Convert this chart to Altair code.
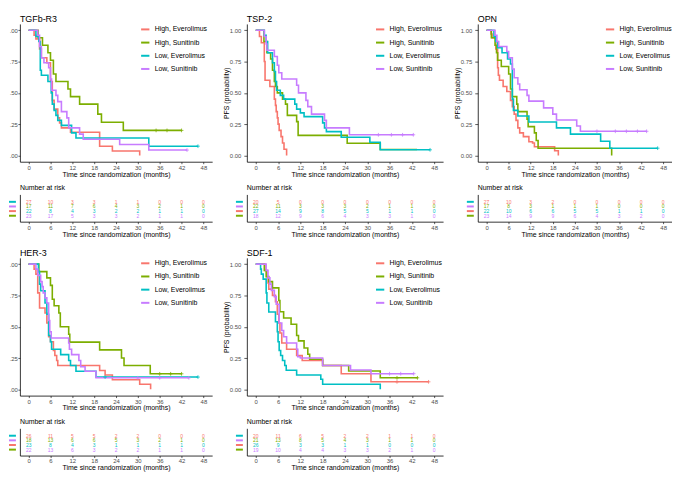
import altair as alt
import pandas as pd

FONT = "Liberation Sans"
GROUPS = ["High, Everolimus", "High, Sunitinib", "Low, Everolimus", "Low, Sunitinib"]
COLORS = ["#F8766D", "#7CAE00", "#00BFC4", "#C77CFF"]
DASH_ORDER = ["Low, Everolimus", "Low, Sunitinib", "High, Everolimus", "High, Sunitinib"]
RISK_TIMES = [0, 6, 12, 18, 24, 30, 36, 42, 48]
Y_TICKS = [0, 0.25, 0.5, 0.75, 1.0]

# ---------------- Kaplan-Meier step points (time, PFS) ----------------
TGFB_HE = [(0, 1), (1.5, 0.96), (2, 0.93), (3, 0.85), (3.5, 0.78), (5, 0.74), (6, 0.59), (6.5, 0.44),
           (7, 0.37), (8, 0.30), (8.5, 0.26), (9, 0.22), (11.5, 0.185), (19.5, 0.074), (23, 0.035), (30.5, 0.0)]
TGFB_HS = [(0, 1), (2.6, 0.94), (3.8, 0.88), (5.3, 0.82), (6, 0.76), (6.8, 0.65), (7.5, 0.59), (10.8, 0.53),
           (11.5, 0.47), (14, 0.41), (19, 0.33), (20, 0.265), (26, 0.20), (42, 0.20)]
TGFB_LE = [(0, 1), (2, 0.95), (2.8, 0.91), (3.2, 0.68), (3.5, 0.64), (5.3, 0.59), (6.2, 0.50), (6.5, 0.41),
           (7, 0.36), (7.5, 0.32), (8, 0.28), (9, 0.24), (11.8, 0.18), (13, 0.14), (33, 0.074), (46.5, 0.074)]
TGFB_LS = [(0, 1), (2.5, 0.96), (3, 0.87), (3.5, 0.78), (4.2, 0.74), (5.5, 0.70), (6, 0.61), (6.3, 0.52),
           (7.5, 0.48), (8, 0.43), (9, 0.35), (10.5, 0.30), (11, 0.22), (14, 0.17), (15, 0.13), (25, 0.087),
           (33, 0.043), (43.5, 0.043)]
TGFB_CENS = {"High, Sunitinib": [35, 38, 42], "Low, Everolimus": [46.5], "Low, Sunitinib": [43.5]}

TSP_HE = [(0, 1), (1, 0.95), (1.5, 0.90), (2.3, 0.75), (2.5, 0.60), (3.8, 0.55), (5, 0.45), (5.3, 0.40),
          (5.5, 0.35), (5.8, 0.30), (6, 0.25), (6.3, 0.20), (6.8, 0.15), (7.2, 0.10), (7.6, 0.05), (8.3, 0.0)]
TSP_HS = [(0, 1), (2.2, 0.91), (3, 0.82), (4, 0.77), (4.5, 0.68), (5, 0.59), (5.3, 0.55), (5.8, 0.50),
          (7.2, 0.45), (8, 0.41), (8.5, 0.32), (11, 0.27), (11.4, 0.16), (24.6, 0.097), (33.5, 0.048), (43.4, 0.048)]
TSP_LE = [(0, 1), (2.3, 0.96), (2.8, 0.91), (3.2, 0.82), (4.5, 0.74), (5, 0.67), (5.3, 0.59), (5.6, 0.52),
          (6.6, 0.48), (7.5, 0.45), (10.5, 0.41), (11, 0.37), (12, 0.34), (13, 0.31), (18, 0.26), (18.5, 0.22),
          (19, 0.19), (23, 0.145), (30.7, 0.105), (33.5, 0.045), (46.9, 0.045)]
TSP_LS = [(0, 1), (2.3, 0.95), (2.8, 0.89), (3, 0.84), (5, 0.79), (5.8, 0.72), (6.2, 0.66), (7, 0.61),
          (11, 0.56), (11.5, 0.50), (13.5, 0.44), (14, 0.39), (15, 0.33), (18.5, 0.28), (19, 0.22),
          (25.2, 0.165), (42.4, 0.165)]
TSP_CENS = {"Low, Everolimus": [46.9], "Low, Sunitinib": [33, 36.5, 39.5, 42.4]}

OPN_HE = [(0, 1), (1.2, 0.97), (1.5, 0.94), (2.5, 0.85), (3, 0.70), (3.2, 0.64), (3.5, 0.60), (4.5, 0.55),
          (5.5, 0.51), (6.5, 0.44), (7, 0.39), (7.5, 0.33), (8, 0.28), (8.5, 0.22), (9, 0.18), (10, 0.15),
          (11.5, 0.11), (12.5, 0.10), (13, 0.07), (18.5, 0.037), (19.5, 0.0)]
OPN_HS = [(0, 1), (1.3, 0.94), (2.3, 0.88), (2.7, 0.82), (3, 0.76), (4, 0.71), (6, 0.65), (6.5, 0.53),
          (7, 0.47), (8.2, 0.41), (8.5, 0.35), (11, 0.29), (11.3, 0.23), (13, 0.18), (13.5, 0.12),
          (14, 0.058), (34, 0.0)]
OPN_LE = [(0, 1), (2, 0.95), (2.5, 0.91), (3, 0.86), (4.2, 0.82), (5.7, 0.77), (6.5, 0.73), (7, 0.45),
          (7.3, 0.36), (8.5, 0.315), (11.5, 0.267), (19, 0.22), (22.8, 0.17), (31, 0.114), (33.5, 0.058),
          (46.5, 0.058)]
OPN_LS = [(0, 1), (2.3, 0.96), (2.8, 0.91), (3.3, 0.87), (5.5, 0.83), (6, 0.78), (7, 0.69), (7.5, 0.62),
          (8.5, 0.57), (9, 0.524), (11, 0.48), (11.5, 0.434), (15.5, 0.38), (18, 0.33), (19, 0.283),
          (24.5, 0.235), (25.5, 0.193), (43.5, 0.193)]
OPN_CENS = {"Low, Everolimus": [46.5], "Low, Sunitinib": [30, 35, 38, 41, 43.5]}

HER_HE = [(0, 1), (1.5, 0.96), (2, 0.92), (2.5, 0.77), (3, 0.65), (4.5, 0.61), (5, 0.53), (5.5, 0.42),
          (6, 0.38), (6.8, 0.31), (7.2, 0.27), (7.7, 0.23), (8, 0.19), (19.5, 0.15), (21, 0.115),
          (23, 0.077), (30.5, 0.04), (33.5, 0.0)]
HER_HS = [(0, 1), (2.8, 0.94), (5, 0.89), (6, 0.83), (6.5, 0.72), (7, 0.667), (8.3, 0.61), (8.7, 0.50),
          (11, 0.44), (11.3, 0.377), (19.5, 0.315), (25.5, 0.25), (26.2, 0.19), (33.4, 0.124), (42, 0.124)]
HER_LE = [(0, 1), (2.7, 0.94), (3, 0.84), (3.3, 0.787), (4.5, 0.69), (5, 0.60), (5.5, 0.43), (6, 0.38),
          (6.3, 0.32), (8.8, 0.277), (11, 0.23), (11.5, 0.19), (13, 0.145), (18.5, 0.098), (46.5, 0.098)]
HER_LS = [(0, 1), (2, 0.96), (2.5, 0.91), (3.3, 0.86), (3.7, 0.82), (4, 0.77), (4.5, 0.73), (5, 0.69),
          (5.5, 0.55), (5.8, 0.46), (6.2, 0.41), (11, 0.37), (11.2, 0.32), (11.8, 0.277), (13.8, 0.23),
          (14.3, 0.18), (15.5, 0.145), (18.5, 0.092), (44, 0.092)]
HER_CENS = {"High, Sunitinib": [36, 39, 42], "Low, Everolimus": [21, 46.5], "Low, Sunitinib": [30, 36, 44]}

SDF_HE = [(0, 1), (2.5, 0.95), (3, 0.90), (3.3, 0.85), (3.5, 0.80), (4.5, 0.75), (5.3, 0.70), (5.8, 0.60),
          (6.2, 0.53), (6.5, 0.45), (7, 0.37), (8.3, 0.32), (11, 0.27), (12.5, 0.23), (18, 0.19),
          (23, 0.125), (31, 0.06), (46.5, 0.06)]
SDF_HS = [(0, 1), (2.3, 0.95), (2.8, 0.90), (3.5, 0.86), (4.5, 0.81), (6.2, 0.71), (6.5, 0.62), (7.5, 0.57),
          (9.5, 0.52), (11, 0.43), (11.5, 0.387), (13, 0.33), (14, 0.28), (14.5, 0.24), (18, 0.19),
          (25, 0.147), (33.5, 0.092), (43.5, 0.092)]
SDF_LE = [(0, 1), (1.3, 0.96), (1.5, 0.92), (2, 0.88), (2.8, 0.77), (3, 0.69), (3.5, 0.618), (5.3, 0.54),
          (5.8, 0.46), (6, 0.38), (6.3, 0.31), (6.7, 0.27), (7.2, 0.23), (7.8, 0.19), (8.2, 0.152),
          (11, 0.115), (17.5, 0.08), (18, 0.04), (33.5, 0.0)]
SDF_LS = [(0, 1), (2.8, 0.95), (3.3, 0.89), (3.8, 0.84), (4.2, 0.79), (5, 0.74), (5.5, 0.68), (6.3, 0.53),
          (7, 0.47), (7.5, 0.42), (8.3, 0.37), (11, 0.32), (11.3, 0.26), (12, 0.25), (18, 0.19),
          (25.5, 0.155), (31, 0.125), (42.5, 0.125)]
SDF_CENS = {"High, Everolimus": [38, 46.5], "High, Sunitinib": [38, 43.5], "Low, Sunitinib": [36, 39, 42.5]}

# ---------------- Number at risk (rows: HE, HS, LE, LS) ----------------
TGFB_RISK = {"High, Everolimus": [27, 10, 3, 3, 1, 1, 0, 0, 0],
             "High, Sunitinib": [17, 11, 7, 6, 4, 3, 2, 1, 0],
             "Low, Everolimus": [22, 8, 4, 3, 2, 2, 1, 1, 0],
             "Low, Sunitinib": [23, 17, 5, 3, 3, 2, 1, 1, 0]}
TSP_RISK = {"High, Everolimus": [20, 5, 0, 0, 0, 0, 0, 0, 0],
            "High, Sunitinib": [22, 11, 3, 3, 3, 2, 1, 1, 0],
            "Low, Everolimus": [27, 14, 9, 8, 5, 5, 1, 1, 0],
            "Low, Sunitinib": [18, 12, 9, 6, 4, 3, 3, 1, 0]}
OPN_RISK = {"High, Everolimus": [27, 10, 3, 2, 0, 0, 0, 0, 0],
            "High, Sunitinib": [17, 8, 3, 1, 1, 1, 0, 0, 0],
            "Low, Everolimus": [22, 10, 6, 6, 5, 5, 1, 1, 0],
            "Low, Sunitinib": [23, 14, 9, 9, 6, 4, 3, 2, 0]}
HER_RISK = {"High, Everolimus": [26, 11, 5, 5, 2, 2, 0, 0, 0],
            "High, Sunitinib": [18, 13, 6, 6, 5, 3, 2, 1, 0],
            "Low, Everolimus": [23, 8, 4, 3, 1, 1, 1, 1, 0],
            "Low, Sunitinib": [22, 13, 6, 3, 2, 2, 1, 1, 0]}
SDF_RISK = {"High, Everolimus": [20, 11, 6, 5, 2, 2, 1, 1, 0],
            "High, Sunitinib": [21, 13, 8, 5, 4, 3, 1, 1, 0],
            "Low, Everolimus": [26, 9, 3, 3, 1, 1, 0, 0, 0],
            "Low, Sunitinib": [19, 10, 4, 4, 3, 3, 2, 1, 0]}

CSCALE = alt.Scale(domain=GROUPS, range=COLORS)
XS = alt.Scale(domain=[-2.4, 50.4], nice=False, zero=False)
YS = alt.Scale(domain=[-0.05, 1.05], nice=False, zero=False)
KM_H = 139
RISK_H = 27.5
XTITLE = "Time since randomization (months)"


def step_value(pairs, t):
    v = pairs[0][1]
    for tt, s in pairs:
        if tt <= t:
            v = s
    return v


def x_axis():
    return alt.Axis(values=RISK_TIMES, title=XTITLE, tickSize=2, labelPadding=0.5, titlePadding=0,
                    grid=False, labelFlush=False, labelOverlap=False)


def km_panel(title, curves, censors, width, ytitle, cut, lx, ly):
    rows = []
    for g in GROUPS:
        for i, (t, s) in enumerate(curves[g]):
            rows.append({"group": g, "t": t, "s": s, "i": i})
    df = pd.DataFrame(rows)
    crows = []
    for g, ts in censors.items():
        for t in ts:
            crows.append({"group": g, "t": t, "s": step_value(curves[g], t)})
    cdf = pd.DataFrame(crows)

    if cut:
        yaxis = alt.Axis(values=Y_TICKS, format=".2f", tickSize=2, labelPadding=0.5, grid=False,
                         title="", labelOverlap=False,
                         labelExpr="slice(format(datum.value, '.2f'), 1)")
    else:
        yaxis = alt.Axis(values=Y_TICKS, format=".2f", tickSize=3, labelPadding=3, titlePadding=0,
                         grid=False, title=ytitle, labelOverlap=False)
    legend = alt.Legend(orient="none", legendX=lx, legendY=ly, title=None, symbolType="stroke",
                        symbolStrokeWidth=2, symbolSize=70, labelFontSize=7, labelFont=FONT,
                        labelColor="black", rowPadding=3.3, labelOffset=4)
    x = alt.X("t:Q", scale=XS, axis=x_axis())
    y = alt.Y("s:Q", scale=YS, axis=yaxis)
    lines = alt.Chart(df).mark_line(interpolate="step-after", strokeWidth=1.6).encode(
        x=x, y=y, color=alt.Color("group:N", scale=CSCALE, legend=legend), order="i:Q")
    cens = alt.Chart(cdf).mark_point(shape="M-1,0L1,0M0,-1L0,1", size=14, filled=False,
                                     strokeWidth=0.8, opacity=1).encode(
        x=x, y=y, stroke=alt.Stroke("group:N", scale=CSCALE, legend=None))
    return alt.layer(lines, cens).properties(
        width=width, height=KM_H,
        title=alt.TitleParams(title, anchor="start", frame="group", fontSize=9, fontWeight="normal",
                              font=FONT, color="black", offset=0))


def risk_panel(counts, width):
    rows = []
    for i, g in enumerate(GROUPS):
        for t, n in zip(RISK_TIMES, counts[g]):
            rows.append({"t": t, "row": i + 1, "n": n, "group": g})
    df = pd.DataFrame(rows)
    ddf = pd.DataFrame({"row": [1, 2, 3, 4], "group": DASH_ORDER})
    yenc = alt.Y("row:Q", scale=alt.Scale(domain=[-0.6, 5.28], reverse=True, nice=False, zero=False),
                 axis=alt.Axis(labels=False, ticks=False, title="", grid=False))
    text = alt.Chart(df).mark_text(fontSize=5, font=FONT, baseline="middle").encode(
        x=alt.X("t:Q", scale=XS, axis=x_axis()), y=yenc, text="n:Q",
        color=alt.Color("group:N", scale=CSCALE, legend=None))
    dash = alt.Chart(ddf).mark_rule(strokeWidth=2).encode(
        x=alt.value(-11), x2=alt.value(-4), y=yenc,
        color=alt.Color("group:N", scale=CSCALE, legend=None))
    return alt.layer(text, dash).properties(
        width=width, height=RISK_H,
        title=alt.TitleParams("Number at risk", anchor="start", frame="group", fontSize=7,
                              fontWeight="normal", font=FONT, color="black", offset=3))


def indep(c):
    return c.resolve_scale(color="independent", stroke="independent").resolve_legend(
        color="independent", stroke="independent")


W1, W2, W3 = 194, 198, 196
PFS = "PFS (probability)"

col1 = indep(alt.vconcat(km_panel("TGFb-R3", {"High, Everolimus": TGFB_HE, "High, Sunitinib": TGFB_HS,
                                              "Low, Everolimus": TGFB_LE, "Low, Sunitinib": TGFB_LS},
                                  TGFB_CENS, W1, "", True, 121, 0),
                         risk_panel(TGFB_RISK, W1), spacing=7))
col2 = indep(alt.vconcat(km_panel("TSP-2", {"High, Everolimus": TSP_HE, "High, Sunitinib": TSP_HS,
                                            "Low, Everolimus": TSP_LE, "Low, Sunitinib": TSP_LS},
                                  TSP_CENS, W2, PFS, False, 129, 0),
                         risk_panel(TSP_RISK, W2), spacing=7))
col3 = indep(alt.vconcat(km_panel("OPN", {"High, Everolimus": OPN_HE, "High, Sunitinib": OPN_HS,
                                          "Low, Everolimus": OPN_LE, "Low, Sunitinib": OPN_LS},
                                  OPN_CENS, W3, PFS, False, 128, 0),
                         risk_panel(OPN_RISK, W3), spacing=7))
col4 = indep(alt.vconcat(km_panel("HER-3", {"High, Everolimus": HER_HE, "High, Sunitinib": HER_HS,
                                            "Low, Everolimus": HER_LE, "Low, Sunitinib": HER_LS},
                                  HER_CENS, W1, "", True, 121, 0),
                         risk_panel(HER_RISK, W1), spacing=7))
col5 = indep(alt.vconcat(km_panel("SDF-1", {"High, Everolimus": SDF_HE, "High, Sunitinib": SDF_HS,
                                            "Low, Everolimus": SDF_LE, "Low, Sunitinib": SDF_LS},
                                  SDF_CENS, W2, PFS, False, 129, 0),
                         risk_panel(SDF_RISK, W2), spacing=7))

row1 = indep(alt.hconcat(col1, col2, col3, spacing=10))
row2 = indep(alt.hconcat(col4, col5, spacing=10))

chart = indep(alt.vconcat(row1, row2, spacing=12)).properties(
    padding={"left": 0, "top": 5, "right": 0, "bottom": 0}, background="white"
).configure_view(stroke=None).configure_axis(
    labelFont=FONT, titleFont=FONT, labelFontSize=6, titleFontSize=7, labelColor="#4D4D4D",
    titleColor="black", titleFontWeight="normal", domainColor="black", tickColor="#333333",
    domainWidth=0.8, tickWidth=0.8)

chart.save("out.html", embed_options={"renderer": "svg", "actions": False})
